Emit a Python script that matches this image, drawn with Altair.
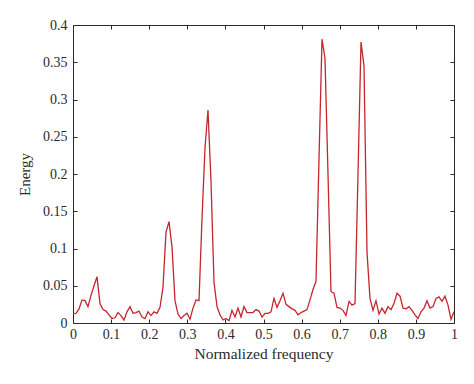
import altair as alt
import pandas as pd

# Energy samples (128 samples, uniformly spaced on [0, 1])
energy = [
    0.0125, 0.013, 0.019, 0.031, 0.030, 0.022, 0.037, 0.050, 0.062, 0.026,
    0.018, 0.016, 0.011, 0.006, 0.007, 0.014, 0.010, 0.004, 0.015, 0.022,
    0.013, 0.014, 0.016, 0.008, 0.006, 0.015, 0.010, 0.015, 0.013, 0.021,
    0.048, 0.122, 0.136, 0.102, 0.030, 0.012, 0.006, 0.010, 0.013, 0.005,
    0.020, 0.031, 0.030, 0.140, 0.235, 0.286, 0.190, 0.055, 0.022, 0.011,
    0.004, 0.006, 0.003, 0.017, 0.008, 0.020, 0.008, 0.022, 0.014, 0.014,
    0.014, 0.018, 0.016, 0.008, 0.013, 0.013, 0.015, 0.033, 0.021, 0.030,
    0.040, 0.025, 0.022, 0.019, 0.017, 0.011, 0.014, 0.016, 0.018, 0.031,
    0.045, 0.056, 0.220, 0.381, 0.355, 0.200, 0.042, 0.040, 0.021, 0.020,
    0.017, 0.010, 0.029, 0.024, 0.026, 0.200, 0.377, 0.345, 0.095, 0.033,
    0.017, 0.030, 0.012, 0.020, 0.013, 0.022, 0.018, 0.026, 0.040, 0.036,
    0.020, 0.019, 0.022, 0.017, 0.011, 0.006, 0.015, 0.020, 0.030, 0.020,
    0.022, 0.033, 0.035, 0.029, 0.036, 0.024, 0.005, 0.015,
]
n = len(energy)
freq = [i / (n - 1) for i in range(n)]

x_ticks = [0, 0.1, 0.2, 0.3, 0.4, 0.5, 0.6, 0.7, 0.8, 0.9, 1]
y_ticks = [0, 0.05, 0.1, 0.15, 0.2, 0.25, 0.3, 0.35, 0.4]

df = pd.DataFrame({"freq": freq, "energy": energy})

FONT = "Liberation Serif"
INK = "#2a2a2a"
LINE = "#c4262e"

x_scale = alt.Scale(domain=[0, 1], nice=False, zero=False)
y_scale = alt.Scale(domain=[0, 0.4], nice=False)

common_axis = dict(
    grid=False, domain=False, ticks=True, tickSize=4, tickColor=INK,
    tickWidth=1, offset=-4,
)

main = alt.Chart(df).mark_line(color=LINE, strokeWidth=1.3).encode(
    x=alt.X("freq:Q", scale=x_scale,
            axis=alt.Axis(orient="bottom", values=x_ticks, format="~g",
                          title="Normalized frequency", labelFont=FONT,
                          labelFontSize=14, labelColor=INK, labelPadding=4,
                          labelFlush=False, titleFont=FONT, titleFontSize=15.5,
                          titleFontWeight="normal", titleColor=INK,
                          titlePadding=5, **common_axis)),
    y=alt.Y("energy:Q", scale=y_scale,
            axis=alt.Axis(orient="left", values=y_ticks, format="~g",
                          title="Energy", labelFont=FONT, labelFontSize=14,
                          labelColor=INK, labelPadding=6, labelFlush=False,
                          titleFont=FONT, titleFontSize=15,
                          titleFontWeight="normal", titleColor=INK,
                          titlePadding=10, **common_axis)),
)

mirror = alt.Chart(df).mark_line(strokeOpacity=0).encode(
    x=alt.X("freq:Q", scale=x_scale,
            axis=alt.Axis(orient="top", values=x_ticks, labels=False,
                          title=None, **common_axis)),
    y=alt.Y("energy:Q", scale=y_scale,
            axis=alt.Axis(orient="right", values=y_ticks, labels=False,
                          title=None, **common_axis)),
)

chart = (
    alt.layer(main, mirror)
    .resolve_axis(x="independent", y="independent")
    .properties(
        width=381,
        height=298,
        autosize=alt.AutoSizeParams(type="none"),
        padding={"left": 65, "top": 17, "right": 12, "bottom": 53},
        background="white",
    )
    .configure_view(stroke=INK, strokeWidth=1)
)

chart.save("out.html", embed_options={"renderer": "svg", "actions": False})
